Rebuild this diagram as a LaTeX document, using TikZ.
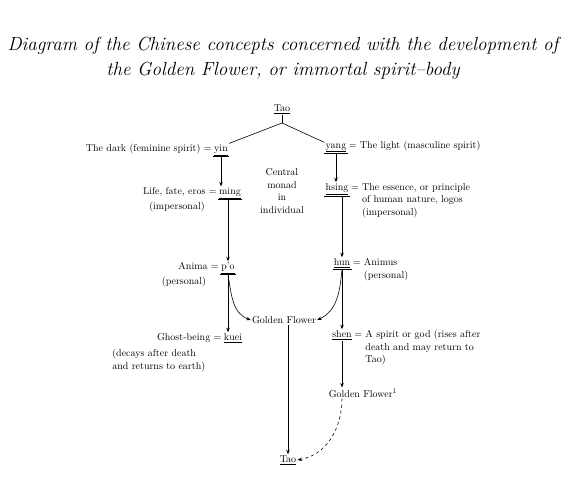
\documentclass[tikz,border=0pt]{standalone}
\usepackage{amsmath}
\usepackage{tikz}
\usetikzlibrary{arrows.meta}
\tikzstyle{every node}=[inner sep=1pt,font=\fontsize{10}{12.5}\selectfont]
\tikzstyle{headline}=[font=\fontsize{19}{22}\selectfont\itshape]

\begin{document}
\begin{tikzpicture}[x=1pt,y=-1pt,>={Stealth[length=4.5pt,width=3.5pt]},line width=0.6pt]
\useasboundingbox (0,0) rectangle (581,480);
\node[headline] (title1) at (283,46) {Diagram of the Chinese concepts concerned with the development of};
\node[headline] (title2) at (283,71) {the Golden Flower, or immortal spirit--body};
\node (taoT) at (282,109) {\underline{Tao}};
\coordinate (fork) at (282,123);
\node (yin) at (221,150) {\underline{yin}};
\node[anchor=base east] (yinL) at (yin.base west) {The dark (feminine spirit) =};
\node (yang) at (336,148) {\underline{yang}};
\node[anchor=base west] (yangR) at (yang.base east) {= The light (masculine spirit)};
\node[align=center] (monad) at (282,191) {Central\\monad\\in\\individual};
\node (ming) at (230,193) {\underline{ming}};
\node[anchor=base east] (mingL) at (ming.base west) {Life, fate, eros =};
\node (mingP) at (177,207) {(impersonal)};
\node (hsing) at (337,189) {\underline{hsing}};
\node[anchor=north west,align=left] (hsingR) at (hsing.north east) {= The essence, or principle\\\hphantom{=\ }of human nature, logos\\\hphantom{=\ }(impersonal)};
\node (po) at (228,268) {\underline{p'o}};
\node[anchor=base east] (poL) at (po.base west) {Anima =};
\node (poP) at (184,282) {(personal)};
\node (hun) at (342,263) {\underline{hun}};
\node[anchor=north west,align=left] (hunR) at (hun.north east) {= Animus\\\hphantom{=\ }(personal)};
\node (gf) at (284,320) {Golden Flower};
\node (kuei) at (233,338) {\underline{kuei}};
\node[anchor=base east] (kueiL) at (kuei.base west) {Ghost-being =};
\node[anchor=north west,align=left] (kueiP) at (111,348) {(decays after death\\and returns to earth)};
\node (shen) at (342,335) {\underline{shen}};
\node[anchor=north west,align=left] (shenR) at (shen.north east) {= A spirit or god (rises after\\\hphantom{=\ }death and may return to\\\hphantom{=\ }Tao)};
\node (gf1) at (363,393) {Golden Flower\textsuperscript{1}};
\node (taoB) at (288,460) {\underline{Tao}};
% bars under the terms
\draw (yin.south west) -- (yin.south east);
\draw (yang.south west) -- (yang.south east);
\draw (ming.south west) -- (ming.south east);
\draw (hsing.south west) -- (hsing.south east);
\draw (po.south west) -- (po.south east);
\draw (hun.south west) -- (hun.south east);
% connectors
\draw (taoT.south) -- (fork);
\draw (fork) -- (yin.north east);
\draw (fork) -- (yang.north west);
\draw[->] (yin.south) -- (yin.south |- ming.north);
\draw[->] (ming.south -| po) -- (po.north);
\draw[->] (po.south) -- (po.south |- kuei.north);
\draw[->] (po.south) to[out=-80,in=160] (gf.west);
\draw[->] (yang.south) -- (yang.south |- hsing.north);
\draw[->] (hsing.south -| hun) -- (hun.north);
\draw[->] (hun.south) -- (hun.south |- shen.north);
\draw[->] (hun.south) to[out=-95,in=25] (gf.east);
\draw[->] (shen.south) -- (shen.south |- gf1.north);
\draw[->] (gf.south -| taoB) -- (taoB.north);
\draw[->,dashed] (gf1.south -| shen) to[out=-90,in=10] (taoB.east);
\end{tikzpicture}
\end{document}
